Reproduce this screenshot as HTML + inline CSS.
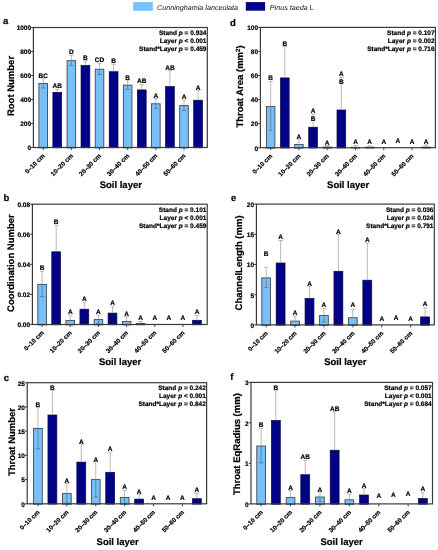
<!DOCTYPE html><html><head><meta charset="utf-8"><style>html,body{margin:0;padding:0;background:#fff;width:438px;height:550px;overflow:hidden}svg{display:block;will-change:transform;text-rendering:geometricPrecision}text{font-family:"Liberation Sans",sans-serif;font-weight:bold;fill:#000;stroke:#000;stroke-width:0.2px}.pl{font-size:9.5px}.bl{font-size:6.5px;text-anchor:middle}.tk{font-size:6.5px;text-anchor:end}.xl{font-size:6.3px;text-anchor:end}.yt{font-size:9.5px;text-anchor:middle}.xt{font-size:9.5px;text-anchor:middle}.st{font-size:6.5px;text-anchor:end}.lg{font-size:7.2px;font-weight:normal;font-style:italic;fill:#111;stroke:none}</style></head><body>
<svg width="438" height="550" viewBox="0 0 438 550" font-family='"Liberation Sans", sans-serif'>
<rect width="438" height="550" fill="#fff"/>
<rect x="133.2" y="2.1" width="19.6" height="8.7" fill="#78c0fa"/>
<text x="157" y="9.9" class="lg">Cunninghamia lanceolata</text>
<rect x="245.8" y="2.1" width="19.3" height="8.6" fill="#020286"/>
<text x="269.8" y="9.9" class="lg">Pinus taeda<tspan font-style="normal"> L</tspan></text>
<g><text x="2.9" y="23.6" class="pl">a</text><rect x="38.9" y="83.5" width="8.6" height="64.4" fill="#78c0fa" stroke="#3a4048" stroke-width="0.85"/><line x1="43.2" y1="78.2" x2="43.2" y2="83.1" stroke="#a8a8a8" stroke-width="0.8"/><line x1="41" y1="78.2" x2="45.4" y2="78.2" stroke="#a8a8a8" stroke-width="0.8"/><line x1="43.2" y1="83.1" x2="43.2" y2="88" stroke="#5a6b7a" stroke-width="0.7"/><line x1="41" y1="88" x2="45.4" y2="88" stroke="#5a6b7a" stroke-width="0.7"/><text x="43.2" y="77.8" class="bl">BC</text><rect x="52.88" y="92.3" width="8.8" height="55.5" fill="#020286" stroke="#0a0a40" stroke-width="0.7"/><line x1="57.28" y1="89.3" x2="57.28" y2="92" stroke="#a8a8a8" stroke-width="0.8"/><line x1="55.08" y1="89.3" x2="59.48" y2="89.3" stroke="#a8a8a8" stroke-width="0.8"/><text x="57.28" y="87.7" class="bl">AB</text><rect x="67.06" y="60.7" width="8.6" height="87.2" fill="#78c0fa" stroke="#3a4048" stroke-width="0.85"/><line x1="71.36" y1="55.1" x2="71.36" y2="60.3" stroke="#a8a8a8" stroke-width="0.8"/><line x1="69.16" y1="55.1" x2="73.56" y2="55.1" stroke="#a8a8a8" stroke-width="0.8"/><line x1="71.36" y1="60.3" x2="71.36" y2="65.5" stroke="#5a6b7a" stroke-width="0.7"/><line x1="69.16" y1="65.5" x2="73.56" y2="65.5" stroke="#5a6b7a" stroke-width="0.7"/><text x="71.36" y="54.3" class="bl">D</text><rect x="81.04" y="65.4" width="8.8" height="82.4" fill="#020286" stroke="#0a0a40" stroke-width="0.7"/><line x1="85.44" y1="60.8" x2="85.44" y2="65.1" stroke="#a8a8a8" stroke-width="0.8"/><line x1="83.24" y1="60.8" x2="87.64" y2="60.8" stroke="#a8a8a8" stroke-width="0.8"/><text x="85.44" y="60.3" class="bl">B</text><rect x="95.22" y="69.2" width="8.6" height="78.7" fill="#78c0fa" stroke="#3a4048" stroke-width="0.85"/><line x1="99.52" y1="63.2" x2="99.52" y2="68.8" stroke="#a8a8a8" stroke-width="0.8"/><line x1="97.32" y1="63.2" x2="101.72" y2="63.2" stroke="#a8a8a8" stroke-width="0.8"/><line x1="99.52" y1="68.8" x2="99.52" y2="74.4" stroke="#5a6b7a" stroke-width="0.7"/><line x1="97.32" y1="74.4" x2="101.72" y2="74.4" stroke="#5a6b7a" stroke-width="0.7"/><text x="99.52" y="62" class="bl">CD</text><rect x="109.2" y="71.7" width="8.8" height="76.1" fill="#020286" stroke="#0a0a40" stroke-width="0.7"/><line x1="113.6" y1="64.2" x2="113.6" y2="71.4" stroke="#a8a8a8" stroke-width="0.8"/><line x1="111.4" y1="64.2" x2="115.8" y2="64.2" stroke="#a8a8a8" stroke-width="0.8"/><text x="113.6" y="63" class="bl">B</text><rect x="123.38" y="85.1" width="8.6" height="62.8" fill="#78c0fa" stroke="#3a4048" stroke-width="0.85"/><line x1="127.68" y1="80" x2="127.68" y2="84.7" stroke="#a8a8a8" stroke-width="0.8"/><line x1="125.48" y1="80" x2="129.88" y2="80" stroke="#a8a8a8" stroke-width="0.8"/><line x1="127.68" y1="84.7" x2="127.68" y2="89.4" stroke="#5a6b7a" stroke-width="0.7"/><line x1="125.48" y1="89.4" x2="129.88" y2="89.4" stroke="#5a6b7a" stroke-width="0.7"/><text x="127.68" y="79.8" class="bl">B</text><rect x="137.36" y="89.9" width="8.8" height="57.9" fill="#020286" stroke="#0a0a40" stroke-width="0.7"/><line x1="141.76" y1="84.3" x2="141.76" y2="89.6" stroke="#a8a8a8" stroke-width="0.8"/><line x1="139.56" y1="84.3" x2="143.96" y2="84.3" stroke="#a8a8a8" stroke-width="0.8"/><text x="141.76" y="83.4" class="bl">AB</text><rect x="151.54" y="103.8" width="8.6" height="44.1" fill="#78c0fa" stroke="#3a4048" stroke-width="0.85"/><line x1="155.84" y1="98.5" x2="155.84" y2="103.4" stroke="#a8a8a8" stroke-width="0.8"/><line x1="153.64" y1="98.5" x2="158.04" y2="98.5" stroke="#a8a8a8" stroke-width="0.8"/><line x1="155.84" y1="103.4" x2="155.84" y2="108.3" stroke="#5a6b7a" stroke-width="0.7"/><line x1="153.64" y1="108.3" x2="158.04" y2="108.3" stroke="#5a6b7a" stroke-width="0.7"/><text x="155.84" y="97.6" class="bl">A</text><rect x="165.52" y="86.5" width="8.8" height="61.3" fill="#020286" stroke="#0a0a40" stroke-width="0.7"/><line x1="169.92" y1="70.5" x2="169.92" y2="86.2" stroke="#a8a8a8" stroke-width="0.8"/><line x1="167.72" y1="70.5" x2="172.12" y2="70.5" stroke="#a8a8a8" stroke-width="0.8"/><text x="169.92" y="69.6" class="bl">AB</text><rect x="179.7" y="105.6" width="8.6" height="42.3" fill="#78c0fa" stroke="#3a4048" stroke-width="0.85"/><line x1="184" y1="100" x2="184" y2="105.2" stroke="#a8a8a8" stroke-width="0.8"/><line x1="181.8" y1="100" x2="186.2" y2="100" stroke="#a8a8a8" stroke-width="0.8"/><line x1="184" y1="105.2" x2="184" y2="110.4" stroke="#5a6b7a" stroke-width="0.7"/><line x1="181.8" y1="110.4" x2="186.2" y2="110.4" stroke="#5a6b7a" stroke-width="0.7"/><text x="184" y="98.9" class="bl">A</text><rect x="193.68" y="100.2" width="8.8" height="47.6" fill="#020286" stroke="#0a0a40" stroke-width="0.7"/><line x1="198.08" y1="90" x2="198.08" y2="99.9" stroke="#a8a8a8" stroke-width="0.8"/><line x1="195.88" y1="90" x2="200.28" y2="90" stroke="#a8a8a8" stroke-width="0.8"/><text x="198.08" y="90.2" class="bl">A</text><rect x="33.4" y="27.5" width="173.9" height="120" fill="none" stroke="#3a3a3a" stroke-width="1.2"/><line x1="31.2" y1="147.5" x2="33.4" y2="147.5" stroke="#3a3a3a" stroke-width="1"/><text x="31.1" y="150.3" class="tk">0</text><line x1="31.2" y1="123.5" x2="33.4" y2="123.5" stroke="#3a3a3a" stroke-width="1"/><text x="31.1" y="126.3" class="tk">200</text><line x1="31.2" y1="99.5" x2="33.4" y2="99.5" stroke="#3a3a3a" stroke-width="1"/><text x="31.1" y="102.3" class="tk">400</text><line x1="31.2" y1="75.5" x2="33.4" y2="75.5" stroke="#3a3a3a" stroke-width="1"/><text x="31.1" y="78.3" class="tk">600</text><line x1="31.2" y1="51.5" x2="33.4" y2="51.5" stroke="#3a3a3a" stroke-width="1"/><text x="31.1" y="54.3" class="tk">800</text><line x1="31.2" y1="27.5" x2="33.4" y2="27.5" stroke="#3a3a3a" stroke-width="1"/><text x="31.1" y="30.3" class="tk">1000</text><line x1="43.2" y1="147.5" x2="43.2" y2="150.1" stroke="#3a3a3a" stroke-width="0.9"/><text transform="translate(45.2,156.4) rotate(-45)" class="xl">0–10 cm</text><line x1="71.36" y1="147.5" x2="71.36" y2="150.1" stroke="#3a3a3a" stroke-width="0.9"/><text transform="translate(73.36,156.4) rotate(-45)" class="xl">10–20 cm</text><line x1="99.52" y1="147.5" x2="99.52" y2="150.1" stroke="#3a3a3a" stroke-width="0.9"/><text transform="translate(101.52,156.4) rotate(-45)" class="xl">20–30 cm</text><line x1="127.68" y1="147.5" x2="127.68" y2="150.1" stroke="#3a3a3a" stroke-width="0.9"/><text transform="translate(129.68,156.4) rotate(-45)" class="xl">30–40 cm</text><line x1="155.84" y1="147.5" x2="155.84" y2="150.1" stroke="#3a3a3a" stroke-width="0.9"/><text transform="translate(157.84,156.4) rotate(-45)" class="xl">40–50 cm</text><line x1="184" y1="147.5" x2="184" y2="150.1" stroke="#3a3a3a" stroke-width="0.9"/><text transform="translate(186,156.4) rotate(-45)" class="xl">50–60 cm</text><text transform="translate(14,86) rotate(-90)" class="yt">Root Number</text><text x="120.8" y="188.4" class="xt">Soil layer</text><text x="206.5" y="34.9" class="st">Stand <tspan font-style="italic">p</tspan> = 0.934</text><text x="206.5" y="43" class="st">Layer <tspan font-style="italic">p</tspan> &lt; 0.001</text><text x="206.5" y="51.1" class="st">Stand*Layer <tspan font-style="italic">p</tspan> = 0.459</text></g>
<g><text x="3.6" y="200.8" class="pl">b</text><rect x="37.8" y="284.4" width="8.6" height="40.5" fill="#78c0fa" stroke="#3a4048" stroke-width="0.85"/><line x1="42.1" y1="271.3" x2="42.1" y2="284" stroke="#a8a8a8" stroke-width="0.8"/><line x1="39.9" y1="271.3" x2="44.3" y2="271.3" stroke="#a8a8a8" stroke-width="0.8"/><line x1="42.1" y1="284" x2="42.1" y2="296.7" stroke="#5a6b7a" stroke-width="0.7"/><line x1="39.9" y1="296.7" x2="44.3" y2="296.7" stroke="#5a6b7a" stroke-width="0.7"/><text x="42.1" y="269.7" class="bl">B</text><rect x="51.78" y="251.8" width="8.8" height="73" fill="#020286" stroke="#0a0a40" stroke-width="0.7"/><line x1="56.18" y1="225.2" x2="56.18" y2="251.5" stroke="#a8a8a8" stroke-width="0.8"/><line x1="53.98" y1="225.2" x2="58.38" y2="225.2" stroke="#a8a8a8" stroke-width="0.8"/><text x="56.18" y="223.6" class="bl">B</text><rect x="65.96" y="320.4" width="8.6" height="4.5" fill="#78c0fa" stroke="#3a4048" stroke-width="0.85"/><line x1="70.26" y1="315.1" x2="70.26" y2="320" stroke="#a8a8a8" stroke-width="0.8"/><line x1="68.06" y1="315.1" x2="72.46" y2="315.1" stroke="#a8a8a8" stroke-width="0.8"/><text x="70.26" y="314.3" class="bl">A</text><rect x="79.94" y="309.2" width="8.8" height="15.6" fill="#020286" stroke="#0a0a40" stroke-width="0.7"/><line x1="84.34" y1="302.1" x2="84.34" y2="308.9" stroke="#a8a8a8" stroke-width="0.8"/><line x1="82.14" y1="302.1" x2="86.54" y2="302.1" stroke="#a8a8a8" stroke-width="0.8"/><text x="84.34" y="300.9" class="bl">A</text><rect x="94.12" y="319.6" width="8.6" height="5.3" fill="#78c0fa" stroke="#3a4048" stroke-width="0.85"/><line x1="98.42" y1="315" x2="98.42" y2="319.2" stroke="#a8a8a8" stroke-width="0.8"/><line x1="96.22" y1="315" x2="100.62" y2="315" stroke="#a8a8a8" stroke-width="0.8"/><line x1="98.42" y1="319.2" x2="98.42" y2="323.4" stroke="#5a6b7a" stroke-width="0.7"/><line x1="96.22" y1="323.4" x2="100.62" y2="323.4" stroke="#5a6b7a" stroke-width="0.7"/><text x="98.42" y="314.3" class="bl">A</text><rect x="108.1" y="313.1" width="8.8" height="11.7" fill="#020286" stroke="#0a0a40" stroke-width="0.7"/><line x1="112.5" y1="306.2" x2="112.5" y2="312.8" stroke="#a8a8a8" stroke-width="0.8"/><line x1="110.3" y1="306.2" x2="114.7" y2="306.2" stroke="#a8a8a8" stroke-width="0.8"/><text x="112.5" y="305.4" class="bl">A</text><rect x="122.28" y="321.5" width="8.6" height="3.4" fill="#78c0fa" stroke="#3a4048" stroke-width="0.85"/><line x1="126.58" y1="316.5" x2="126.58" y2="321.1" stroke="#a8a8a8" stroke-width="0.8"/><line x1="124.38" y1="316.5" x2="128.78" y2="316.5" stroke="#a8a8a8" stroke-width="0.8"/><text x="126.58" y="315.5" class="bl">A</text><rect x="136.26" y="323.7" width="8.8" height="1.1" fill="#020286" stroke="#0a0a40" stroke-width="0.7"/><line x1="140.66" y1="321.5" x2="140.66" y2="323.4" stroke="#a8a8a8" stroke-width="0.8"/><line x1="138.46" y1="321.5" x2="142.86" y2="321.5" stroke="#a8a8a8" stroke-width="0.8"/><text x="140.66" y="320.1" class="bl">A</text><text x="154.74" y="320.1" class="bl">A</text><text x="168.82" y="320.1" class="bl">A</text><text x="182.9" y="320.1" class="bl">A</text><rect x="192.58" y="320.3" width="8.8" height="4.5" fill="#020286" stroke="#0a0a40" stroke-width="0.7"/><line x1="196.98" y1="315.4" x2="196.98" y2="320" stroke="#a8a8a8" stroke-width="0.8"/><line x1="194.78" y1="315.4" x2="199.18" y2="315.4" stroke="#a8a8a8" stroke-width="0.8"/><text x="196.98" y="314.4" class="bl">A</text><rect x="32.4" y="204.2" width="174.8" height="120.3" fill="none" stroke="#3a3a3a" stroke-width="1.2"/><line x1="30.2" y1="324.5" x2="32.4" y2="324.5" stroke="#3a3a3a" stroke-width="1"/><text x="30.1" y="327.3" class="tk">0.00</text><line x1="30.2" y1="294.43" x2="32.4" y2="294.43" stroke="#3a3a3a" stroke-width="1"/><text x="30.1" y="297.23" class="tk">0.02</text><line x1="30.2" y1="264.35" x2="32.4" y2="264.35" stroke="#3a3a3a" stroke-width="1"/><text x="30.1" y="267.15" class="tk">0.04</text><line x1="30.2" y1="234.28" x2="32.4" y2="234.28" stroke="#3a3a3a" stroke-width="1"/><text x="30.1" y="237.08" class="tk">0.06</text><line x1="30.2" y1="204.2" x2="32.4" y2="204.2" stroke="#3a3a3a" stroke-width="1"/><text x="30.1" y="207" class="tk">0.08</text><line x1="42.1" y1="324.5" x2="42.1" y2="327.1" stroke="#3a3a3a" stroke-width="0.9"/><text transform="translate(44.1,333.4) rotate(-45)" class="xl">0–10 cm</text><line x1="70.26" y1="324.5" x2="70.26" y2="327.1" stroke="#3a3a3a" stroke-width="0.9"/><text transform="translate(72.26,333.4) rotate(-45)" class="xl">10–20 cm</text><line x1="98.42" y1="324.5" x2="98.42" y2="327.1" stroke="#3a3a3a" stroke-width="0.9"/><text transform="translate(100.42,333.4) rotate(-45)" class="xl">20–30 cm</text><line x1="126.58" y1="324.5" x2="126.58" y2="327.1" stroke="#3a3a3a" stroke-width="0.9"/><text transform="translate(128.58,333.4) rotate(-45)" class="xl">30–40 cm</text><line x1="154.74" y1="324.5" x2="154.74" y2="327.1" stroke="#3a3a3a" stroke-width="0.9"/><text transform="translate(156.74,333.4) rotate(-45)" class="xl">40–50 cm</text><line x1="182.9" y1="324.5" x2="182.9" y2="327.1" stroke="#3a3a3a" stroke-width="0.9"/><text transform="translate(184.9,333.4) rotate(-45)" class="xl">50–60 cm</text><text transform="translate(13.6,263.1) rotate(-90)" class="yt">Coordination Number</text><text x="120.1" y="364.8" class="xt">Soil layer</text><text x="206.4" y="211.6" class="st">Stand <tspan font-style="italic">p</tspan> = 0.101</text><text x="206.4" y="219.7" class="st">Layer <tspan font-style="italic">p</tspan> &lt; 0.001</text><text x="206.4" y="227.8" class="st">Stand*Layer <tspan font-style="italic">p</tspan> = 0.459</text></g>
<g><text x="3.7" y="380.8" class="pl">c</text><rect x="33.6" y="428.5" width="8.7" height="75.7" fill="#78c0fa" stroke="#3a4048" stroke-width="0.85"/><line x1="37.95" y1="407.4" x2="37.95" y2="428.1" stroke="#a8a8a8" stroke-width="0.8"/><line x1="35.75" y1="407.4" x2="40.15" y2="407.4" stroke="#a8a8a8" stroke-width="0.8"/><line x1="37.95" y1="428.1" x2="37.95" y2="448.8" stroke="#5a6b7a" stroke-width="0.7"/><line x1="35.75" y1="448.8" x2="40.15" y2="448.8" stroke="#5a6b7a" stroke-width="0.7"/><text x="37.95" y="406.7" class="bl">B</text><rect x="47.95" y="415" width="8.9" height="89.1" fill="#020286" stroke="#0a0a40" stroke-width="0.7"/><line x1="52.4" y1="390.1" x2="52.4" y2="414.7" stroke="#a8a8a8" stroke-width="0.8"/><line x1="50.2" y1="390.1" x2="54.6" y2="390.1" stroke="#a8a8a8" stroke-width="0.8"/><text x="52.4" y="390.3" class="bl">B</text><rect x="62.5" y="493.6" width="8.7" height="10.6" fill="#78c0fa" stroke="#3a4048" stroke-width="0.85"/><line x1="66.85" y1="483.3" x2="66.85" y2="493.2" stroke="#a8a8a8" stroke-width="0.8"/><line x1="64.65" y1="483.3" x2="69.05" y2="483.3" stroke="#a8a8a8" stroke-width="0.8"/><line x1="66.85" y1="493.2" x2="66.85" y2="503.1" stroke="#5a6b7a" stroke-width="0.7"/><line x1="64.65" y1="503.1" x2="69.05" y2="503.1" stroke="#5a6b7a" stroke-width="0.7"/><text x="66.85" y="482.8" class="bl">A</text><rect x="76.85" y="462.1" width="8.9" height="42" fill="#020286" stroke="#0a0a40" stroke-width="0.7"/><line x1="81.3" y1="443.9" x2="81.3" y2="461.8" stroke="#a8a8a8" stroke-width="0.8"/><line x1="79.1" y1="443.9" x2="83.5" y2="443.9" stroke="#a8a8a8" stroke-width="0.8"/><text x="81.3" y="444.1" class="bl">A</text><rect x="91.4" y="479.6" width="8.7" height="24.6" fill="#78c0fa" stroke="#3a4048" stroke-width="0.85"/><line x1="95.75" y1="461.4" x2="95.75" y2="479.2" stroke="#a8a8a8" stroke-width="0.8"/><line x1="93.55" y1="461.4" x2="97.95" y2="461.4" stroke="#a8a8a8" stroke-width="0.8"/><line x1="95.75" y1="479.2" x2="95.75" y2="497" stroke="#5a6b7a" stroke-width="0.7"/><line x1="93.55" y1="497" x2="97.95" y2="497" stroke="#5a6b7a" stroke-width="0.7"/><text x="95.75" y="461.6" class="bl">A</text><rect x="105.75" y="472.3" width="8.9" height="31.8" fill="#020286" stroke="#0a0a40" stroke-width="0.7"/><line x1="110.2" y1="452.1" x2="110.2" y2="472" stroke="#a8a8a8" stroke-width="0.8"/><line x1="108" y1="452.1" x2="112.4" y2="452.1" stroke="#a8a8a8" stroke-width="0.8"/><text x="110.2" y="451.3" class="bl">A</text><rect x="120.3" y="497.4" width="8.7" height="6.8" fill="#78c0fa" stroke="#3a4048" stroke-width="0.85"/><line x1="124.65" y1="490.4" x2="124.65" y2="497" stroke="#a8a8a8" stroke-width="0.8"/><line x1="122.45" y1="490.4" x2="126.85" y2="490.4" stroke="#a8a8a8" stroke-width="0.8"/><line x1="124.65" y1="497" x2="124.65" y2="503.6" stroke="#5a6b7a" stroke-width="0.7"/><line x1="122.45" y1="503.6" x2="126.85" y2="503.6" stroke="#5a6b7a" stroke-width="0.7"/><text x="124.65" y="489.2" class="bl">A</text><rect x="134.65" y="499.1" width="8.9" height="5" fill="#020286" stroke="#0a0a40" stroke-width="0.7"/><line x1="139.1" y1="494.2" x2="139.1" y2="498.8" stroke="#a8a8a8" stroke-width="0.8"/><line x1="136.9" y1="494.2" x2="141.3" y2="494.2" stroke="#a8a8a8" stroke-width="0.8"/><text x="139.1" y="493.7" class="bl">A</text><text x="153.55" y="500.1" class="bl">A</text><text x="168" y="500.1" class="bl">A</text><text x="182.45" y="500.1" class="bl">A</text><rect x="192.45" y="498.7" width="8.9" height="5.4" fill="#020286" stroke="#0a0a40" stroke-width="0.7"/><line x1="196.9" y1="493.1" x2="196.9" y2="498.4" stroke="#a8a8a8" stroke-width="0.8"/><line x1="194.7" y1="493.1" x2="199.1" y2="493.1" stroke="#a8a8a8" stroke-width="0.8"/><text x="196.9" y="491.9" class="bl">A</text><rect x="27.2" y="382.7" width="179.4" height="121.1" fill="none" stroke="#3a3a3a" stroke-width="1.2"/><line x1="25" y1="503.8" x2="27.2" y2="503.8" stroke="#3a3a3a" stroke-width="1"/><text x="24.9" y="506.6" class="tk">0</text><line x1="25" y1="479.58" x2="27.2" y2="479.58" stroke="#3a3a3a" stroke-width="1"/><text x="24.9" y="482.38" class="tk">5</text><line x1="25" y1="455.36" x2="27.2" y2="455.36" stroke="#3a3a3a" stroke-width="1"/><text x="24.9" y="458.16" class="tk">10</text><line x1="25" y1="431.14" x2="27.2" y2="431.14" stroke="#3a3a3a" stroke-width="1"/><text x="24.9" y="433.94" class="tk">15</text><line x1="25" y1="406.92" x2="27.2" y2="406.92" stroke="#3a3a3a" stroke-width="1"/><text x="24.9" y="409.72" class="tk">20</text><line x1="25" y1="382.7" x2="27.2" y2="382.7" stroke="#3a3a3a" stroke-width="1"/><text x="24.9" y="385.5" class="tk">25</text><line x1="37.95" y1="503.8" x2="37.95" y2="506.4" stroke="#3a3a3a" stroke-width="0.9"/><text transform="translate(39.95,512.7) rotate(-45)" class="xl">0–10 cm</text><line x1="66.85" y1="503.8" x2="66.85" y2="506.4" stroke="#3a3a3a" stroke-width="0.9"/><text transform="translate(68.85,512.7) rotate(-45)" class="xl">10–20 cm</text><line x1="95.75" y1="503.8" x2="95.75" y2="506.4" stroke="#3a3a3a" stroke-width="0.9"/><text transform="translate(97.75,512.7) rotate(-45)" class="xl">20–30 cm</text><line x1="124.65" y1="503.8" x2="124.65" y2="506.4" stroke="#3a3a3a" stroke-width="0.9"/><text transform="translate(126.65,512.7) rotate(-45)" class="xl">30–40 cm</text><line x1="153.55" y1="503.8" x2="153.55" y2="506.4" stroke="#3a3a3a" stroke-width="0.9"/><text transform="translate(155.55,512.7) rotate(-45)" class="xl">40–50 cm</text><line x1="182.45" y1="503.8" x2="182.45" y2="506.4" stroke="#3a3a3a" stroke-width="0.9"/><text transform="translate(184.45,512.7) rotate(-45)" class="xl">50–60 cm</text><text transform="translate(14.6,442) rotate(-90)" class="yt">Throat Number</text><text x="117.7" y="545.1" class="xt">Soil layer</text><text x="205.8" y="390.1" class="st">Stand <tspan font-style="italic">p</tspan> = 0.242</text><text x="205.8" y="398.2" class="st">Layer <tspan font-style="italic">p</tspan> &lt; 0.001</text><text x="205.8" y="406.3" class="st">Stand*Layer <tspan font-style="italic">p</tspan> = 0.842</text></g>
<g><text x="230" y="26" class="pl">d</text><rect x="266.4" y="106.4" width="8.5" height="41.7" fill="#78c0fa" stroke="#3a4048" stroke-width="0.85"/><line x1="270.65" y1="81.3" x2="270.65" y2="106" stroke="#a8a8a8" stroke-width="0.8"/><line x1="268.45" y1="81.3" x2="272.85" y2="81.3" stroke="#a8a8a8" stroke-width="0.8"/><line x1="270.65" y1="106" x2="270.65" y2="130.7" stroke="#5a6b7a" stroke-width="0.7"/><line x1="268.45" y1="130.7" x2="272.85" y2="130.7" stroke="#5a6b7a" stroke-width="0.7"/><text x="270.65" y="79.7" class="bl">B</text><rect x="280.44" y="77.9" width="8.7" height="70.1" fill="#020286" stroke="#0a0a40" stroke-width="0.7"/><line x1="284.79" y1="46.6" x2="284.79" y2="77.6" stroke="#a8a8a8" stroke-width="0.8"/><line x1="282.59" y1="46.6" x2="286.99" y2="46.6" stroke="#a8a8a8" stroke-width="0.8"/><text x="284.79" y="45.7" class="bl">B</text><rect x="294.68" y="144.4" width="8.5" height="3.7" fill="#78c0fa" stroke="#3a4048" stroke-width="0.85"/><line x1="298.93" y1="138.8" x2="298.93" y2="144" stroke="#a8a8a8" stroke-width="0.8"/><line x1="296.73" y1="138.8" x2="301.13" y2="138.8" stroke="#a8a8a8" stroke-width="0.8"/><text x="298.93" y="138.6" class="bl">A</text><rect x="308.72" y="127.2" width="8.7" height="20.8" fill="#020286" stroke="#0a0a40" stroke-width="0.7"/><line x1="313.07" y1="114.2" x2="313.07" y2="126.9" stroke="#a8a8a8" stroke-width="0.8"/><line x1="310.87" y1="114.2" x2="315.27" y2="114.2" stroke="#a8a8a8" stroke-width="0.8"/><text x="313.07" y="113.4" class="bl">A</text><text x="313.07" y="121.2" class="bl">B</text><rect x="322.96" y="147" width="8.5" height="1.1" fill="#78c0fa" stroke="#3a4048" stroke-width="0.85"/><line x1="327.21" y1="145.5" x2="327.21" y2="146.6" stroke="#a8a8a8" stroke-width="0.8"/><line x1="325.01" y1="145.5" x2="329.41" y2="145.5" stroke="#a8a8a8" stroke-width="0.8"/><text x="327.21" y="144.8" class="bl">A</text><rect x="337" y="110" width="8.7" height="38" fill="#020286" stroke="#0a0a40" stroke-width="0.7"/><line x1="341.35" y1="77.2" x2="341.35" y2="109.7" stroke="#a8a8a8" stroke-width="0.8"/><line x1="339.15" y1="77.2" x2="343.55" y2="77.2" stroke="#a8a8a8" stroke-width="0.8"/><text x="341.35" y="76.4" class="bl">A</text><text x="341.35" y="84.2" class="bl">B</text><rect x="351.24" y="147.3" width="8.5" height="0.8" fill="#78c0fa" stroke="#3a4048" stroke-width="0.85"/><line x1="355.49" y1="145.5" x2="355.49" y2="146.9" stroke="#a8a8a8" stroke-width="0.8"/><line x1="353.29" y1="145.5" x2="357.69" y2="145.5" stroke="#a8a8a8" stroke-width="0.8"/><text x="355.49" y="144.1" class="bl">A</text><rect x="365.28" y="147.1" width="8.7" height="0.9" fill="#020286" stroke="#0a0a40" stroke-width="0.7"/><line x1="369.63" y1="146" x2="369.63" y2="146.8" stroke="#a8a8a8" stroke-width="0.8"/><line x1="367.43" y1="146" x2="371.83" y2="146" stroke="#a8a8a8" stroke-width="0.8"/><text x="369.63" y="144.1" class="bl">A</text><text x="383.77" y="144.1" class="bl">A</text><text x="397.91" y="142.9" class="bl">A</text><text x="412.05" y="144.1" class="bl">A</text><rect x="421.84" y="147.1" width="8.7" height="0.9" fill="#020286" stroke="#0a0a40" stroke-width="0.7"/><line x1="426.19" y1="145" x2="426.19" y2="146.8" stroke="#a8a8a8" stroke-width="0.8"/><line x1="423.99" y1="145" x2="428.39" y2="145" stroke="#a8a8a8" stroke-width="0.8"/><text x="426.19" y="144.1" class="bl">A</text><rect x="260.4" y="27.4" width="175" height="120.3" fill="none" stroke="#3a3a3a" stroke-width="1.2"/><line x1="258.2" y1="147.7" x2="260.4" y2="147.7" stroke="#3a3a3a" stroke-width="1"/><text x="258.1" y="150.5" class="tk">0</text><line x1="258.2" y1="123.64" x2="260.4" y2="123.64" stroke="#3a3a3a" stroke-width="1"/><text x="258.1" y="126.44" class="tk">20</text><line x1="258.2" y1="99.58" x2="260.4" y2="99.58" stroke="#3a3a3a" stroke-width="1"/><text x="258.1" y="102.38" class="tk">40</text><line x1="258.2" y1="75.52" x2="260.4" y2="75.52" stroke="#3a3a3a" stroke-width="1"/><text x="258.1" y="78.32" class="tk">60</text><line x1="258.2" y1="51.46" x2="260.4" y2="51.46" stroke="#3a3a3a" stroke-width="1"/><text x="258.1" y="54.26" class="tk">80</text><line x1="258.2" y1="27.4" x2="260.4" y2="27.4" stroke="#3a3a3a" stroke-width="1"/><text x="258.1" y="30.2" class="tk">100</text><line x1="270.65" y1="147.7" x2="270.65" y2="150.3" stroke="#3a3a3a" stroke-width="0.9"/><text transform="translate(272.65,156.6) rotate(-45)" class="xl">0–10 cm</text><line x1="298.93" y1="147.7" x2="298.93" y2="150.3" stroke="#3a3a3a" stroke-width="0.9"/><text transform="translate(300.93,156.6) rotate(-45)" class="xl">10–20 cm</text><line x1="327.21" y1="147.7" x2="327.21" y2="150.3" stroke="#3a3a3a" stroke-width="0.9"/><text transform="translate(329.21,156.6) rotate(-45)" class="xl">20–30 cm</text><line x1="355.49" y1="147.7" x2="355.49" y2="150.3" stroke="#3a3a3a" stroke-width="0.9"/><text transform="translate(357.49,156.6) rotate(-45)" class="xl">30–40 cm</text><line x1="383.77" y1="147.7" x2="383.77" y2="150.3" stroke="#3a3a3a" stroke-width="0.9"/><text transform="translate(385.77,156.6) rotate(-45)" class="xl">40–50 cm</text><line x1="412.05" y1="147.7" x2="412.05" y2="150.3" stroke="#3a3a3a" stroke-width="0.9"/><text transform="translate(414.05,156.6) rotate(-45)" class="xl">50–60 cm</text><text transform="translate(242.5,86.5) rotate(-90)" class="yt">Throat Area (mm<tspan baseline-shift="super" style="font-size:6px">2</tspan>)</text><text x="348.2" y="188" class="xt">Soil layer</text><text x="434.6" y="34.8" class="st">Stand <tspan font-style="italic">p</tspan> = 0.107</text><text x="434.6" y="42.9" class="st">Layer <tspan font-style="italic">p</tspan> = 0.002</text><text x="434.6" y="51" class="st">Stand*Layer <tspan font-style="italic">p</tspan> = 0.716</text></g>
<g><text x="230.9" y="200.8" class="pl">e</text><rect x="261.8" y="277.9" width="8.7" height="47.4" fill="#78c0fa" stroke="#3a4048" stroke-width="0.85"/><line x1="266.15" y1="267.3" x2="266.15" y2="277.5" stroke="#a8a8a8" stroke-width="0.8"/><line x1="263.95" y1="267.3" x2="268.35" y2="267.3" stroke="#a8a8a8" stroke-width="0.8"/><line x1="266.15" y1="277.5" x2="266.15" y2="287.7" stroke="#5a6b7a" stroke-width="0.7"/><line x1="263.95" y1="287.7" x2="268.35" y2="287.7" stroke="#5a6b7a" stroke-width="0.7"/><text x="266.15" y="256.2" class="bl">B</text><rect x="276.15" y="263" width="8.9" height="62.2" fill="#020286" stroke="#0a0a40" stroke-width="0.7"/><line x1="280.6" y1="240.5" x2="280.6" y2="262.7" stroke="#a8a8a8" stroke-width="0.8"/><line x1="278.4" y1="240.5" x2="282.8" y2="240.5" stroke="#a8a8a8" stroke-width="0.8"/><text x="280.6" y="238.9" class="bl">A</text><rect x="290.7" y="321.1" width="8.7" height="4.2" fill="#78c0fa" stroke="#3a4048" stroke-width="0.85"/><line x1="295.05" y1="316" x2="295.05" y2="320.7" stroke="#a8a8a8" stroke-width="0.8"/><line x1="292.85" y1="316" x2="297.25" y2="316" stroke="#a8a8a8" stroke-width="0.8"/><text x="295.05" y="315.4" class="bl">A</text><rect x="305.05" y="298.4" width="8.9" height="26.8" fill="#020286" stroke="#0a0a40" stroke-width="0.7"/><line x1="309.5" y1="286.2" x2="309.5" y2="298.1" stroke="#a8a8a8" stroke-width="0.8"/><line x1="307.3" y1="286.2" x2="311.7" y2="286.2" stroke="#a8a8a8" stroke-width="0.8"/><text x="309.5" y="285.6" class="bl">A</text><rect x="319.6" y="315.5" width="8.7" height="9.8" fill="#78c0fa" stroke="#3a4048" stroke-width="0.85"/><line x1="323.95" y1="308.4" x2="323.95" y2="315.1" stroke="#a8a8a8" stroke-width="0.8"/><line x1="321.75" y1="308.4" x2="326.15" y2="308.4" stroke="#a8a8a8" stroke-width="0.8"/><line x1="323.95" y1="315.1" x2="323.95" y2="321.8" stroke="#5a6b7a" stroke-width="0.7"/><line x1="321.75" y1="321.8" x2="326.15" y2="321.8" stroke="#5a6b7a" stroke-width="0.7"/><text x="323.95" y="307.1" class="bl">A</text><rect x="333.95" y="271.3" width="8.9" height="53.9" fill="#020286" stroke="#0a0a40" stroke-width="0.7"/><line x1="338.4" y1="234.4" x2="338.4" y2="271" stroke="#a8a8a8" stroke-width="0.8"/><line x1="336.2" y1="234.4" x2="340.6" y2="234.4" stroke="#a8a8a8" stroke-width="0.8"/><text x="338.4" y="233.8" class="bl">A</text><rect x="348.5" y="317.7" width="8.7" height="7.6" fill="#78c0fa" stroke="#3a4048" stroke-width="0.85"/><line x1="352.85" y1="309.4" x2="352.85" y2="317.3" stroke="#a8a8a8" stroke-width="0.8"/><line x1="350.65" y1="309.4" x2="355.05" y2="309.4" stroke="#a8a8a8" stroke-width="0.8"/><text x="352.85" y="307.2" class="bl">A</text><rect x="362.85" y="280.2" width="8.9" height="45" fill="#020286" stroke="#0a0a40" stroke-width="0.7"/><line x1="367.3" y1="243.4" x2="367.3" y2="279.9" stroke="#a8a8a8" stroke-width="0.8"/><line x1="365.1" y1="243.4" x2="369.5" y2="243.4" stroke="#a8a8a8" stroke-width="0.8"/><text x="367.3" y="242.3" class="bl">A</text><text x="381.75" y="320.8" class="bl">A</text><text x="396.2" y="320.2" class="bl">A</text><text x="410.65" y="320.8" class="bl">A</text><rect x="420.65" y="316.9" width="8.9" height="8.3" fill="#020286" stroke="#0a0a40" stroke-width="0.7"/><line x1="425.1" y1="307.9" x2="425.1" y2="316.6" stroke="#a8a8a8" stroke-width="0.8"/><line x1="422.9" y1="307.9" x2="427.3" y2="307.9" stroke="#a8a8a8" stroke-width="0.8"/><text x="425.1" y="306.3" class="bl">A</text><rect x="256.4" y="204.1" width="177.9" height="120.8" fill="none" stroke="#3a3a3a" stroke-width="1.2"/><line x1="254.2" y1="324.9" x2="256.4" y2="324.9" stroke="#3a3a3a" stroke-width="1"/><text x="254.1" y="327.7" class="tk">0</text><line x1="254.2" y1="294.7" x2="256.4" y2="294.7" stroke="#3a3a3a" stroke-width="1"/><text x="254.1" y="297.5" class="tk">5</text><line x1="254.2" y1="264.5" x2="256.4" y2="264.5" stroke="#3a3a3a" stroke-width="1"/><text x="254.1" y="267.3" class="tk">10</text><line x1="254.2" y1="234.3" x2="256.4" y2="234.3" stroke="#3a3a3a" stroke-width="1"/><text x="254.1" y="237.1" class="tk">15</text><line x1="254.2" y1="204.1" x2="256.4" y2="204.1" stroke="#3a3a3a" stroke-width="1"/><text x="254.1" y="206.9" class="tk">20</text><line x1="266.15" y1="324.9" x2="266.15" y2="327.5" stroke="#3a3a3a" stroke-width="0.9"/><text transform="translate(268.15,333.8) rotate(-45)" class="xl">0–10 cm</text><line x1="295.05" y1="324.9" x2="295.05" y2="327.5" stroke="#3a3a3a" stroke-width="0.9"/><text transform="translate(297.05,333.8) rotate(-45)" class="xl">10–20 cm</text><line x1="323.95" y1="324.9" x2="323.95" y2="327.5" stroke="#3a3a3a" stroke-width="0.9"/><text transform="translate(325.95,333.8) rotate(-45)" class="xl">20–30 cm</text><line x1="352.85" y1="324.9" x2="352.85" y2="327.5" stroke="#3a3a3a" stroke-width="0.9"/><text transform="translate(354.85,333.8) rotate(-45)" class="xl">30–40 cm</text><line x1="381.75" y1="324.9" x2="381.75" y2="327.5" stroke="#3a3a3a" stroke-width="0.9"/><text transform="translate(383.75,333.8) rotate(-45)" class="xl">40–50 cm</text><line x1="410.65" y1="324.9" x2="410.65" y2="327.5" stroke="#3a3a3a" stroke-width="0.9"/><text transform="translate(412.65,333.8) rotate(-45)" class="xl">50–60 cm</text><text transform="translate(242,262.9) rotate(-90)" class="yt">ChannelLength (mm)</text><text x="345.3" y="365.1" class="xt">Soil layer</text><text x="433.5" y="211.5" class="st">Stand <tspan font-style="italic">p</tspan> = 0.036</text><text x="433.5" y="219.6" class="st">Layer <tspan font-style="italic">p</tspan> = 0.024</text><text x="433.5" y="227.7" class="st">Stand*Layer <tspan font-style="italic">p</tspan> = 0.791</text></g>
<g><text x="230.3" y="380" class="pl">f</text><rect x="256.8" y="446" width="8.7" height="58.3" fill="#78c0fa" stroke="#3a4048" stroke-width="0.85"/><line x1="261.15" y1="428.4" x2="261.15" y2="445.6" stroke="#a8a8a8" stroke-width="0.8"/><line x1="258.95" y1="428.4" x2="263.35" y2="428.4" stroke="#a8a8a8" stroke-width="0.8"/><line x1="261.15" y1="445.6" x2="261.15" y2="462.8" stroke="#5a6b7a" stroke-width="0.7"/><line x1="258.95" y1="462.8" x2="263.35" y2="462.8" stroke="#5a6b7a" stroke-width="0.7"/><text x="261.15" y="427.1" class="bl">B</text><rect x="271.4" y="420.4" width="8.9" height="83.8" fill="#020286" stroke="#0a0a40" stroke-width="0.7"/><line x1="275.85" y1="390.1" x2="275.85" y2="420.1" stroke="#a8a8a8" stroke-width="0.8"/><line x1="273.65" y1="390.1" x2="278.05" y2="390.1" stroke="#a8a8a8" stroke-width="0.8"/><text x="275.85" y="389.9" class="bl">B</text><rect x="286.2" y="497.6" width="8.7" height="6.7" fill="#78c0fa" stroke="#3a4048" stroke-width="0.85"/><line x1="290.55" y1="490.4" x2="290.55" y2="497.2" stroke="#a8a8a8" stroke-width="0.8"/><line x1="288.35" y1="490.4" x2="292.75" y2="490.4" stroke="#a8a8a8" stroke-width="0.8"/><text x="290.55" y="489.6" class="bl">A</text><rect x="300.8" y="474.7" width="8.9" height="29.5" fill="#020286" stroke="#0a0a40" stroke-width="0.7"/><line x1="305.25" y1="460.2" x2="305.25" y2="474.4" stroke="#a8a8a8" stroke-width="0.8"/><line x1="303.05" y1="460.2" x2="307.45" y2="460.2" stroke="#a8a8a8" stroke-width="0.8"/><text x="305.25" y="459.4" class="bl">AB</text><rect x="315.6" y="497" width="8.7" height="7.3" fill="#78c0fa" stroke="#3a4048" stroke-width="0.85"/><line x1="319.95" y1="491.8" x2="319.95" y2="496.6" stroke="#a8a8a8" stroke-width="0.8"/><line x1="317.75" y1="491.8" x2="322.15" y2="491.8" stroke="#a8a8a8" stroke-width="0.8"/><line x1="319.95" y1="496.6" x2="319.95" y2="501.4" stroke="#5a6b7a" stroke-width="0.7"/><line x1="317.75" y1="501.4" x2="322.15" y2="501.4" stroke="#5a6b7a" stroke-width="0.7"/><text x="319.95" y="491.7" class="bl">A</text><rect x="330.2" y="450.2" width="8.9" height="54" fill="#020286" stroke="#0a0a40" stroke-width="0.7"/><line x1="334.65" y1="411.3" x2="334.65" y2="449.9" stroke="#a8a8a8" stroke-width="0.8"/><line x1="332.45" y1="411.3" x2="336.85" y2="411.3" stroke="#a8a8a8" stroke-width="0.8"/><text x="334.65" y="410.7" class="bl">AB</text><rect x="345" y="499.8" width="8.7" height="4.5" fill="#78c0fa" stroke="#3a4048" stroke-width="0.85"/><line x1="349.35" y1="494.2" x2="349.35" y2="499.4" stroke="#a8a8a8" stroke-width="0.8"/><line x1="347.15" y1="494.2" x2="351.55" y2="494.2" stroke="#a8a8a8" stroke-width="0.8"/><text x="349.35" y="493.4" class="bl">A</text><rect x="359.6" y="495" width="8.9" height="9.2" fill="#020286" stroke="#0a0a40" stroke-width="0.7"/><line x1="364.05" y1="488.3" x2="364.05" y2="494.7" stroke="#a8a8a8" stroke-width="0.8"/><line x1="361.85" y1="488.3" x2="366.25" y2="488.3" stroke="#a8a8a8" stroke-width="0.8"/><text x="364.05" y="487.7" class="bl">A</text><text x="378.75" y="498.3" class="bl">A</text><text x="393.45" y="497.1" class="bl">A</text><text x="408.15" y="496.4" class="bl">A</text><rect x="418.4" y="498.5" width="8.9" height="5.7" fill="#020286" stroke="#0a0a40" stroke-width="0.7"/><line x1="422.85" y1="492.3" x2="422.85" y2="498.2" stroke="#a8a8a8" stroke-width="0.8"/><line x1="420.65" y1="492.3" x2="425.05" y2="492.3" stroke="#a8a8a8" stroke-width="0.8"/><text x="422.85" y="490.5" class="bl">A</text><rect x="251" y="382.4" width="181.5" height="121.5" fill="none" stroke="#3a3a3a" stroke-width="1.2"/><line x1="248.8" y1="503.9" x2="251" y2="503.9" stroke="#3a3a3a" stroke-width="1"/><text x="248.7" y="506.7" class="tk">0</text><line x1="248.8" y1="463.4" x2="251" y2="463.4" stroke="#3a3a3a" stroke-width="1"/><text x="248.7" y="466.2" class="tk">1</text><line x1="248.8" y1="422.9" x2="251" y2="422.9" stroke="#3a3a3a" stroke-width="1"/><text x="248.7" y="425.7" class="tk">2</text><line x1="248.8" y1="382.4" x2="251" y2="382.4" stroke="#3a3a3a" stroke-width="1"/><text x="248.7" y="385.2" class="tk">3</text><line x1="261.15" y1="503.9" x2="261.15" y2="506.5" stroke="#3a3a3a" stroke-width="0.9"/><text transform="translate(263.15,512.8) rotate(-45)" class="xl">0–10 cm</text><line x1="290.55" y1="503.9" x2="290.55" y2="506.5" stroke="#3a3a3a" stroke-width="0.9"/><text transform="translate(292.55,512.8) rotate(-45)" class="xl">10–20 cm</text><line x1="319.95" y1="503.9" x2="319.95" y2="506.5" stroke="#3a3a3a" stroke-width="0.9"/><text transform="translate(321.95,512.8) rotate(-45)" class="xl">20–30 cm</text><line x1="349.35" y1="503.9" x2="349.35" y2="506.5" stroke="#3a3a3a" stroke-width="0.9"/><text transform="translate(351.35,512.8) rotate(-45)" class="xl">30–40 cm</text><line x1="378.75" y1="503.9" x2="378.75" y2="506.5" stroke="#3a3a3a" stroke-width="0.9"/><text transform="translate(380.75,512.8) rotate(-45)" class="xl">40–50 cm</text><line x1="408.15" y1="503.9" x2="408.15" y2="506.5" stroke="#3a3a3a" stroke-width="0.9"/><text transform="translate(410.15,512.8) rotate(-45)" class="xl">50–60 cm</text><text transform="translate(240.3,444.1) rotate(-90)" class="yt">Throat EqRadius (mm)</text><text x="341.6" y="545.1" class="xt">Soil layer</text><text x="431.7" y="389.8" class="st">Stand <tspan font-style="italic">p</tspan> = 0.057</text><text x="431.7" y="397.9" class="st">Layer <tspan font-style="italic">p</tspan> &lt; 0.001</text><text x="431.7" y="406" class="st">Stand*Layer <tspan font-style="italic">p</tspan> = 0.684</text></g>
</svg></body></html>
